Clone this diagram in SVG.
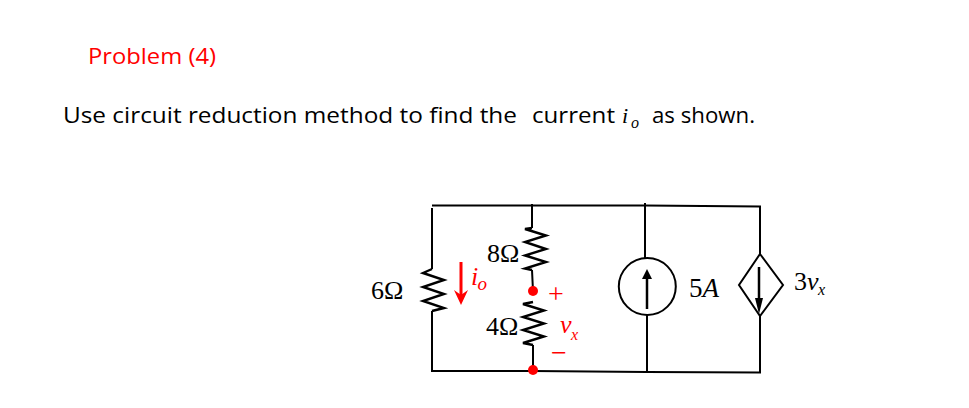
<svg xmlns="http://www.w3.org/2000/svg" width="969" height="408" viewBox="0 0 969 408">
<style>
.w{fill:none;stroke:#000;stroke-width:2}
.r{fill:none;stroke:#000;stroke-width:2.4;stroke-linejoin:miter}
.h{font-family:"Open Sans","Noto Sans",sans-serif;font-size:22px}
.s{font-family:"Liberation Serif",serif;font-size:26px;fill:#000}
.i{font-style:italic}
.red{fill:#f00}
.sm{font-size:16px}
</style>
<rect width="969" height="408" fill="#fff"/>
<g id="heading">
<text class="h red" x="88" y="64" textLength="128" lengthAdjust="spacingAndGlyphs">Problem (4)</text>
<text class="h" x="63" y="123" textLength="454" lengthAdjust="spacingAndGlyphs">Use circuit reduction method to find the</text>
<text class="h" x="532" y="123" textLength="83" lengthAdjust="spacingAndGlyphs">current</text>
<text class="s i" x="622" y="123" style="font-size:22px">i</text>
<text class="s i" x="631" y="128" style="font-size:16px">o</text>
<text class="h" x="652" y="123" textLength="103" lengthAdjust="spacingAndGlyphs">as shown.</text>
</g>
<g id="connectors">
<path class="w" d="M432 205.500L532 205.500L645 205.500L760 206.500L760 254"/>
<path class="w" d="M432 208L432 269M432 311L432 372"/>
<path class="w" d="M432.500 371L533 371L647 372L760 372.500L760 316"/>
<path class="w" d="M532 204L532 228M532 270L533 291M533 345L533 371"/>
<path class="w" d="M645 203L645 258M647 315L647 372"/>
</g>
<g id="r6">
<path class="r" d="M432 269L423 273L444 280L423 287L444 294L423 301L444 308L432 311"/>
<text class="s" x="371" y="299">6Ω</text>
</g>
<g id="r8">
<path class="r" d="M532 228L525 229L546 235.500L525 242L546 249L525 255.500L546 262L525 268.500L532 270"/>
<text class="s" x="487" y="262">8Ω</text>
</g>
<g id="r4">
<path class="r" d="M533 302L523 304L544 310.500L523 317L544 323.500L523 330L544 336.500L523 343L533 345"/>
<text class="s" x="486" y="335">4Ω</text>
</g>
<g id="isource">
<circle class="w" cx="647.300" cy="286.500" r="28.500"/>
<path class="w" d="M647 309L647 276" style="stroke-width:2.500"/>
<path d="M647 269L642 279L652 279Z" fill="#000"/>
<text class="s i" x="689" y="297" style="font-size:27px"><tspan font-style="normal">5</tspan>A</text>
</g>
<g id="dsource">
<path class="w" d="M760 254L783 285L760 316L739 285Z"/>
<path class="w" d="M759 267L759 300" style="stroke-width:2.500"/>
<path d="M759 314L755 298L763 298Z" fill="#000"/>
<text class="s" x="794" y="290">3<tspan class="i">v</tspan></text>
<text class="s i sm" x="818" y="295">x</text>
</g>
<g id="nodes-red">
<circle cx="533" cy="291" r="5" fill="#f00"/>
<circle cx="533" cy="370" r="5" fill="#f00"/>
</g>
<g id="io">
<path d="M461 262L461 296" stroke="#f00" stroke-width="3" fill="none"/>
<path d="M461 305L454 290L461 295L468 290Z" fill="#f00"/>
<text class="s i red" x="471" y="285">i</text>
<text class="s i red" x="477.500" y="289.500" style="font-size:19px">o</text>
</g>
<g id="vx">
<text class="s red" x="548" y="303" style="font-size:28px">+</text>
<text class="s i red" x="560" y="333">v</text>
<text class="s i red sm" x="571" y="340">x</text>
<text class="s red" x="551" y="362" style="font-size:28px">−</text>
</g>
</svg>
